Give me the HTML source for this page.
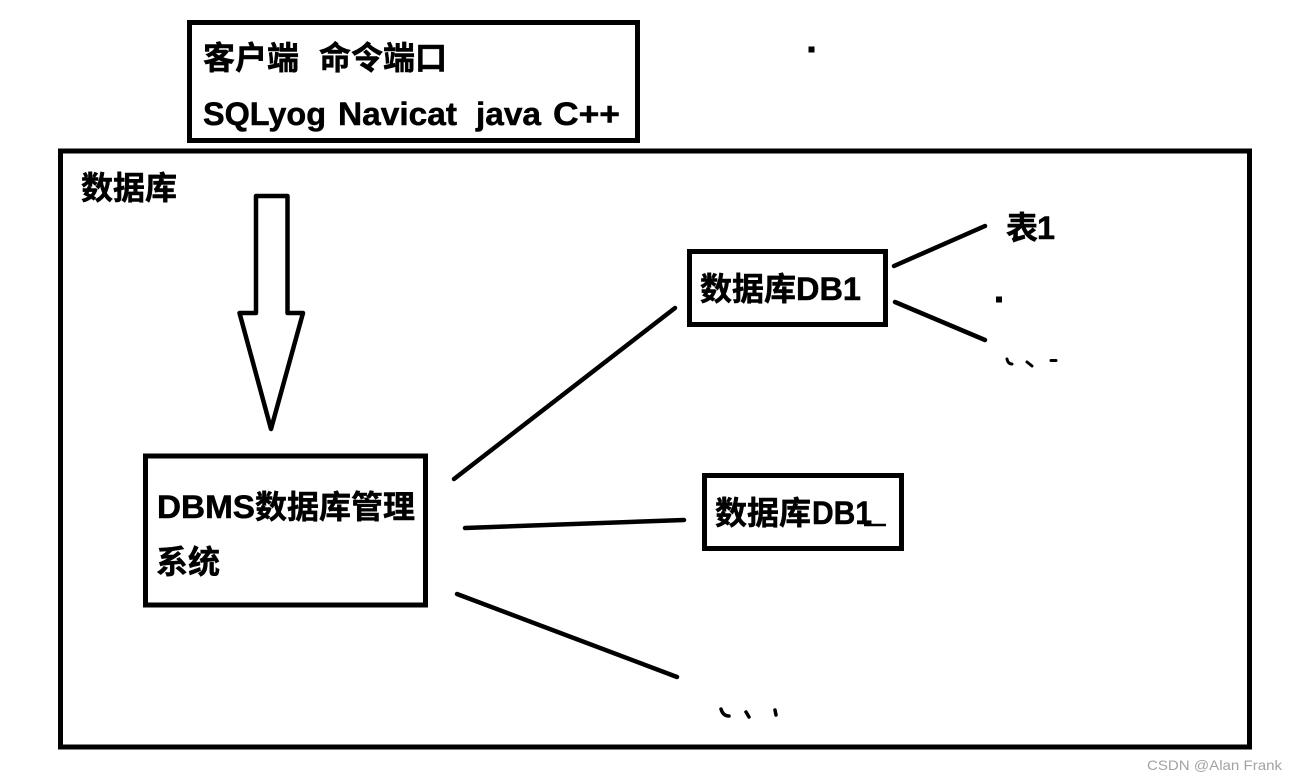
<!DOCTYPE html>
<html lang="zh">
<head>
<meta charset="utf-8">
<style>
html,body{margin:0;padding:0;background:#fff;width:1297px;height:780px;overflow:hidden}
svg{display:block}
text{font-family:"Liberation Sans","Noto Sans CJK SC",sans-serif;font-weight:700;font-size:32px;fill:#000;stroke:#000;stroke-width:.5}
.l{fill:none;stroke:#000;stroke-width:4.5;stroke-linecap:round}
.b{fill:none;stroke:#000;stroke-width:5}
.d{fill:none;stroke:#000;stroke-width:3;stroke-linecap:round}
</style>
</head>
<body>
<svg width="1297" height="780" viewBox="0 0 1297 780" xmlns="http://www.w3.org/2000/svg">
<rect x="189.500" y="22.500" width="448" height="118" class="b"/>
<rect x="60.500" y="151" width="1189" height="596" class="b"/>
<rect x="145.500" y="456" width="280" height="149" class="b"/>
<rect x="689.500" y="251.500" width="196" height="73" class="b"/>
<rect x="704.500" y="475.500" width="197" height="73" class="b"/>

<text x="203" y="69">客户端</text>
<text x="319" y="69">命令端口</text>
<text x="203" y="125" textLength="123" lengthAdjust="spacingAndGlyphs">SQLyog</text>
<text x="338" y="125" textLength="119" lengthAdjust="spacingAndGlyphs">Navicat</text>
<text x="476" y="125" textLength="65" lengthAdjust="spacingAndGlyphs">java</text>
<text x="553" y="125" textLength="67" lengthAdjust="spacingAndGlyphs">C++</text>
<text x="81" y="199">数据库</text>
<text x="157" y="518" textLength="98" lengthAdjust="spacingAndGlyphs">DBMS</text>
<text x="255" y="518" textLength="160" lengthAdjust="spacingAndGlyphs">数据库管理</text>
<text x="156" y="573">系统</text>
<text x="700" y="300">数据库</text>
<text x="796" y="300" textLength="65" lengthAdjust="spacingAndGlyphs">DB1</text>
<text x="715" y="524">数据库</text>
<text x="812" y="524" textLength="60" lengthAdjust="spacingAndGlyphs">DB1</text>
<text x="1006" y="239">表</text>
<text x="1037" y="239" textLength="18" lengthAdjust="spacingAndGlyphs">1</text>

<path d="M256 196H287.500V313H303L271 429L239.500 313H256Z" fill="none" stroke="#000" stroke-width="4.500" stroke-linejoin="round"/>

<line x1="454" y1="479" x2="675" y2="308" class="l"/>
<line x1="465" y1="528" x2="684" y2="520" class="l"/>
<line x1="457" y1="594" x2="677" y2="677" class="l"/>
<line x1="894" y1="266" x2="985" y2="226" class="l"/>
<line x1="895" y1="302" x2="985" y2="340" class="l"/>
<line x1="864" y1="525" x2="886" y2="525" stroke="#000" stroke-width="2.500"/>

<rect x="808.500" y="46.500" width="6" height="6" fill="#000"/>
<rect x="996" y="296.500" width="6" height="6" fill="#000"/>

<path d="M1007 359Q1008 364 1012 364" class="d"/>
<path d="M1027 362L1032 366" class="d"/>
<path d="M1051 360.500H1056" class="d"/>
<path d="M721 709Q723 716 729 716" class="d" style="stroke-width:3.500"/>
<path d="M746 712L749 717" class="d" style="stroke-width:3.500"/>
<path d="M775 710L776 715" class="d" style="stroke-width:3.500"/>

<text x="1147" y="770" textLength="135" lengthAdjust="spacingAndGlyphs" style="font-size:14px;font-weight:400;fill:#a3a3a3;stroke:none">CSDN @Alan Frank</text>
</svg>
</body>
</html>
